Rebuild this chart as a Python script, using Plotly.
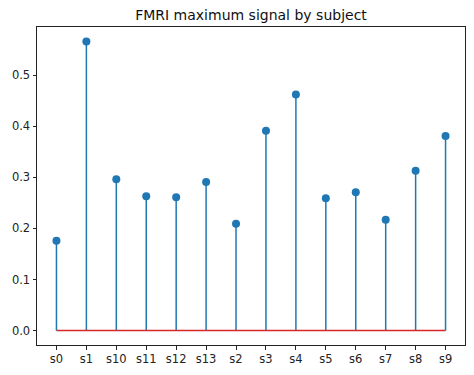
import plotly.graph_objects as go

subjects = ["s0", "s1", "s10", "s11", "s12", "s13", "s2", "s3", "s4", "s5", "s6", "s7", "s8", "s9"]
max_signal = [0.176, 0.566, 0.296, 0.263, 0.261, 0.291, 0.209, 0.391, 0.462, 0.259, 0.271, 0.217, 0.313, 0.381]
y_ticks = [0.0, 0.1, 0.2, 0.3, 0.4, 0.5]

blue = "#1f77b4"
red = "#d62728"

stem_x, stem_y = [], []
for s, v in zip(subjects, max_signal):
    stem_x += [s, s, None]
    stem_y += [0, v, None]

fig = go.Figure()
fig.add_trace(go.Scatter(x=stem_x, y=stem_y, mode="lines",
                         line=dict(color=blue, width=1.5), showlegend=False, hoverinfo="skip"))
fig.add_trace(go.Scatter(x=[subjects[0], subjects[-1]], y=[0, 0], mode="lines",
                         line=dict(color=red, width=1.5), showlegend=False))
fig.add_trace(go.Scatter(x=subjects, y=max_signal, mode="markers",
                         marker=dict(color=blue, size=8), showlegend=False))

ymin, ymax = 0, max(max_signal)
pad = 0.05 * (ymax - ymin)
n = len(subjects)

axis_common = dict(showline=True, linecolor="#222222", linewidth=1, mirror=True,
                   ticks="outside", ticklen=3.5, tickwidth=0.8, tickcolor="#222222",
                   showgrid=False, zeroline=False,
                   tickfont=dict(family="DejaVu Sans", size=11.5, color="#222222"))

fig.update_layout(
    width=474, height=375,
    margin=dict(l=37, r=9, t=27, b=30),
    paper_bgcolor="white", plot_bgcolor="white",
    title=dict(text="FMRI maximum signal by subject", x=0.5, xref="paper", xanchor="center",
               y=1 - 15 / 375, yref="container", yanchor="middle",
               font=dict(family="DejaVu Sans", size=14, color="#111111")),
    xaxis=dict(type="category", categoryorder="array", categoryarray=subjects,
               range=[-0.05 * (n - 1), (n - 1) * 1.05], **axis_common),
    yaxis=dict(range=[ymin - pad, ymax + pad], tickvals=y_ticks,
               ticktext=[f"{t:.1f}" for t in y_ticks], **axis_common),
)

fig.write_html("out.html")
